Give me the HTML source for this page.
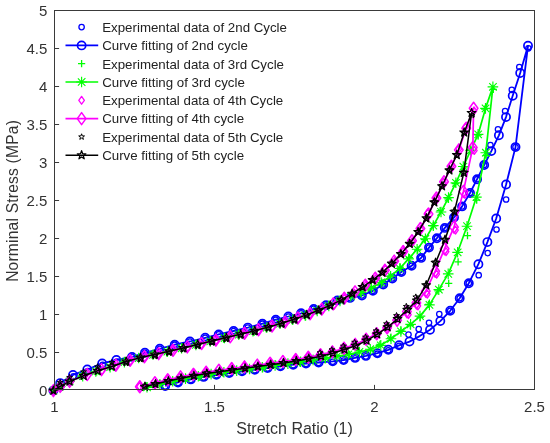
<!DOCTYPE html>
<html><head><meta charset="utf-8"><title>Stress-stretch curves</title>
<style>html,body{margin:0;padding:0;background:#fff}svg{display:block}</style></head>
<body>
<svg width="550" height="443" viewBox="0 0 550 443" font-family="'Liberation Sans', Arial, sans-serif">
<rect width="550" height="443" fill="#fff"/>
<g fill="none" stroke="#0000ff" stroke-width="1.3" stroke-linejoin="round"><circle cx="53.4" cy="390.6" r="2.7"/><circle cx="60.7" cy="384.6" r="2.7"/><circle cx="73.5" cy="376.4" r="2.7"/><circle cx="87.8" cy="371" r="2.7"/><circle cx="102.7" cy="364.9" r="2.7"/><circle cx="116.9" cy="361.5" r="2.7"/><circle cx="132" cy="356.9" r="2.7"/><circle cx="144.9" cy="352.8" r="2.7"/><circle cx="159.8" cy="348.8" r="2.7"/><circle cx="174.7" cy="344.7" r="2.7"/><circle cx="189.9" cy="341.5" r="2.7"/><circle cx="205.2" cy="337.8" r="2.7"/><circle cx="218.7" cy="334.4" r="2.7"/><circle cx="233.6" cy="331" r="2.7"/><circle cx="247.8" cy="327.6" r="2.7"/><circle cx="262.4" cy="323.7" r="2.7"/><circle cx="275.8" cy="319.7" r="2.7"/><circle cx="288.4" cy="316.5" r="2.7"/><circle cx="301.1" cy="313.3" r="2.7"/><circle cx="313.7" cy="308.9" r="2.7"/><circle cx="326" cy="305.3" r="2.7"/><circle cx="337.4" cy="300.4" r="2.7"/><circle cx="350" cy="297.9" r="2.7"/><circle cx="361.9" cy="295.5" r="2.7"/><circle cx="372.9" cy="290.8" r="2.7"/><circle cx="383.2" cy="284.5" r="2.7"/><circle cx="392.3" cy="278.5" r="2.7"/><circle cx="401.3" cy="272.1" r="2.7"/><circle cx="411.6" cy="265.8" r="2.7"/><circle cx="421.1" cy="257.9" r="2.7"/><circle cx="429" cy="247.6" r="2.7"/><circle cx="436.9" cy="238.2" r="2.7"/><circle cx="444.8" cy="227.9" r="2.7"/><circle cx="454" cy="217.4" r="2.7"/><circle cx="462.1" cy="206.4" r="2.7"/><circle cx="470" cy="193" r="2.7"/><circle cx="477.1" cy="179.2" r="2.7"/><circle cx="484.2" cy="165" r="2.7"/><circle cx="490.4" cy="145.1" r="2.7"/><circle cx="498" cy="129.3" r="2.7"/><circle cx="505.1" cy="111.1" r="2.7"/><circle cx="511.8" cy="89.8" r="2.7"/><circle cx="519.3" cy="67" r="2.7"/><circle cx="528.4" cy="48.3" r="2.7"/><circle cx="515.5" cy="147.1" r="2.7"/><circle cx="506.1" cy="199.5" r="2.7"/><circle cx="496.5" cy="229.5" r="2.7"/><circle cx="487.7" cy="253.1" r="2.7"/><circle cx="478.7" cy="275.2" r="2.7"/><circle cx="468.8" cy="283.2" r="2.7"/><circle cx="459.7" cy="298.2" r="2.7"/><circle cx="450.2" cy="310.8" r="2.7"/><circle cx="439.3" cy="314.1" r="2.7"/><circle cx="429" cy="322.8" r="2.7"/><circle cx="418.7" cy="329.1" r="2.7"/><circle cx="408.5" cy="334.6" r="2.7"/><circle cx="399.1" cy="345.8" r="2.7"/><circle cx="388.3" cy="350.3" r="2.7"/><circle cx="377.4" cy="353.7" r="2.7"/><circle cx="365.9" cy="356.4" r="2.7"/><circle cx="355.1" cy="358.4" r="2.7"/><circle cx="343.6" cy="360.5" r="2.7"/><circle cx="332.7" cy="361.8" r="2.7"/><circle cx="318.6" cy="363" r="2.7"/><circle cx="306" cy="364" r="2.7"/><circle cx="293.2" cy="365.2" r="2.7"/><circle cx="280.4" cy="366.8" r="2.7"/><circle cx="267.6" cy="368.5" r="2.7"/><circle cx="254.8" cy="370.2" r="2.7"/><circle cx="242" cy="371.8" r="2.7"/><circle cx="229.2" cy="373.5" r="2.7"/><circle cx="216.4" cy="375.3" r="2.7"/><circle cx="203.6" cy="377.4" r="2.7"/><circle cx="190.8" cy="379.9" r="2.7"/><circle cx="178" cy="383" r="2.7"/><circle cx="165.2" cy="386.5" r="2.7"/></g>
<g fill="none" stroke="#0000ff" stroke-width="1.8" stroke-linejoin="round"><path d="M53.4 390.6L60.2 383.1L73 374.9L87.3 369.5L102.2 363.4L116.4 360L132 356.9L144.9 352.8L159.8 348.8L174.7 344.7L189.9 341.5L205.2 337.8L218.7 334.4L233.6 331L247.8 327.6L262.4 323.7L275.8 319.7L288.4 316.5L301.1 313.3L313.7 308.9L326 305.3L337.4 300.4L350 297.9L361.9 295.5L372.9 290.8L383.2 284.5L392.3 278.5L401.3 272.1L411.6 265.8L421.1 257.9L429 247.6L436.9 238.2L444.8 227.9L454 217.4L462.1 206.4L470 193L477.1 179.2L484.2 165L491.3 151.1L498.9 135.3L506 117.1L512.7 95.8L520.2 73L528 45.8L515.5 147.1L506.1 184.5L496.2 218.5L487.4 242.1L478.4 264.2L468.8 283.2L459.7 298.2L450.2 310.8L440.3 321.1L430 329.8L419.7 336.1L409.5 341.6L399.1 345.3L388.3 349.8L377.4 353.2L365.9 355.9L355.1 357.9L343.6 360L332.7 361.3L318.6 362.5L306 363.5L293.2 364.7L280.4 366.3L267.6 368L254.8 369.7L242 371.3L229.2 373L216.4 374.8L203.6 376.9L190.8 379.4L178 382.5L165.2 386"/></g><g fill="none" stroke="#0000ff" stroke-width="1.7" stroke-linejoin="round"><circle cx="53.4" cy="390.6" r="4.1"/><circle cx="60.2" cy="383.1" r="4.1"/><circle cx="73" cy="374.9" r="4.1"/><circle cx="87.3" cy="369.5" r="4.1"/><circle cx="102.2" cy="363.4" r="4.1"/><circle cx="116.4" cy="360" r="4.1"/><circle cx="132" cy="356.9" r="4.1"/><circle cx="144.9" cy="352.8" r="4.1"/><circle cx="159.8" cy="348.8" r="4.1"/><circle cx="174.7" cy="344.7" r="4.1"/><circle cx="189.9" cy="341.5" r="4.1"/><circle cx="205.2" cy="337.8" r="4.1"/><circle cx="218.7" cy="334.4" r="4.1"/><circle cx="233.6" cy="331" r="4.1"/><circle cx="247.8" cy="327.6" r="4.1"/><circle cx="262.4" cy="323.7" r="4.1"/><circle cx="275.8" cy="319.7" r="4.1"/><circle cx="288.4" cy="316.5" r="4.1"/><circle cx="301.1" cy="313.3" r="4.1"/><circle cx="313.7" cy="308.9" r="4.1"/><circle cx="326" cy="305.3" r="4.1"/><circle cx="337.4" cy="300.4" r="4.1"/><circle cx="350" cy="297.9" r="4.1"/><circle cx="361.9" cy="295.5" r="4.1"/><circle cx="372.9" cy="290.8" r="4.1"/><circle cx="383.2" cy="284.5" r="4.1"/><circle cx="392.3" cy="278.5" r="4.1"/><circle cx="401.3" cy="272.1" r="4.1"/><circle cx="411.6" cy="265.8" r="4.1"/><circle cx="421.1" cy="257.9" r="4.1"/><circle cx="429" cy="247.6" r="4.1"/><circle cx="436.9" cy="238.2" r="4.1"/><circle cx="444.8" cy="227.9" r="4.1"/><circle cx="454" cy="217.4" r="4.1"/><circle cx="462.1" cy="206.4" r="4.1"/><circle cx="470" cy="193" r="4.1"/><circle cx="477.1" cy="179.2" r="4.1"/><circle cx="484.2" cy="165" r="4.1"/><circle cx="491.3" cy="151.1" r="4.1"/><circle cx="498.9" cy="135.3" r="4.1"/><circle cx="506" cy="117.1" r="4.1"/><circle cx="512.7" cy="95.8" r="4.1"/><circle cx="520.2" cy="73" r="4.1"/><circle cx="528" cy="45.8" r="4.1"/><circle cx="515.5" cy="147.1" r="4.1"/><circle cx="506.1" cy="184.5" r="4.1"/><circle cx="496.2" cy="218.5" r="4.1"/><circle cx="487.4" cy="242.1" r="4.1"/><circle cx="478.4" cy="264.2" r="4.1"/><circle cx="468.8" cy="283.2" r="4.1"/><circle cx="459.7" cy="298.2" r="4.1"/><circle cx="450.2" cy="310.8" r="4.1"/><circle cx="440.3" cy="321.1" r="4.1"/><circle cx="430" cy="329.8" r="4.1"/><circle cx="419.7" cy="336.1" r="4.1"/><circle cx="409.5" cy="341.6" r="4.1"/><circle cx="399.1" cy="345.3" r="4.1"/><circle cx="388.3" cy="349.8" r="4.1"/><circle cx="377.4" cy="353.2" r="4.1"/><circle cx="365.9" cy="355.9" r="4.1"/><circle cx="355.1" cy="357.9" r="4.1"/><circle cx="343.6" cy="360" r="4.1"/><circle cx="332.7" cy="361.3" r="4.1"/><circle cx="318.6" cy="362.5" r="4.1"/><circle cx="306" cy="363.5" r="4.1"/><circle cx="293.2" cy="364.7" r="4.1"/><circle cx="280.4" cy="366.3" r="4.1"/><circle cx="267.6" cy="368" r="4.1"/><circle cx="254.8" cy="369.7" r="4.1"/><circle cx="242" cy="371.3" r="4.1"/><circle cx="229.2" cy="373" r="4.1"/><circle cx="216.4" cy="374.8" r="4.1"/><circle cx="203.6" cy="376.9" r="4.1"/><circle cx="190.8" cy="379.4" r="4.1"/><circle cx="178" cy="382.5" r="4.1"/><circle cx="165.2" cy="386" r="4.1"/></g>
<g fill="none" stroke="#00ff00" stroke-width="1.3" stroke-linejoin="round"><path d="M49.8 390.6h7.2M53.4 387v7.2"/><path d="M57.2 387.7h7.2M60.8 384.1v7.2"/><path d="M66.5 382.7h7.2M70.1 379.1v7.2"/><path d="M78.2 376h7.2M81.8 372.4v7.2"/><path d="M93.1 371.9h7.2M96.7 368.3v7.2"/><path d="M107.3 365.9h7.2M110.9 362.3v7.2"/><path d="M120.8 361.3h7.2M124.4 357.7v7.2"/><path d="M135.2 358.3h7.2M138.8 354.7v7.2"/><path d="M148.5 354h7.2M152.1 350.4v7.2"/><path d="M163.3 352.9h7.2M166.9 349.3v7.2"/><path d="M178.6 347.3h7.2M182.2 343.7v7.2"/><path d="M192.9 343.8h7.2M196.5 340.2v7.2"/><path d="M206.9 340.3h7.2M210.5 336.7v7.2"/><path d="M219.9 339.1h7.2M223.5 335.5v7.2"/><path d="M234.7 333.7h7.2M238.3 330.1v7.2"/><path d="M250.4 332.3h7.2M254 328.7v7.2"/><path d="M262.7 328.9h7.2M266.3 325.3v7.2"/><path d="M276.5 324.2h7.2M280.1 320.6v7.2"/><path d="M288.7 321h7.2M292.3 317.4v7.2"/><path d="M302 316.8h7.2M305.6 313.2v7.2"/><path d="M314.4 310.3h7.2M318 306.7v7.2"/><path d="M324.9 304.9h7.2M328.5 301.3v7.2"/><path d="M335.7 299.6h7.2M339.3 296v7.2"/><path d="M346.8 296.6h7.2M350.4 293v7.2"/><path d="M356.7 292.8h7.2M360.3 289.2v7.2"/><path d="M367.5 287.3h7.2M371.1 283.7v7.2"/><path d="M378.2 282.4h7.2M381.8 278.8v7.2"/><path d="M386.6 276.1h7.2M390.2 272.5v7.2"/><path d="M396.6 267.1h7.2M400.2 263.5v7.2"/><path d="M405.9 257.5h7.2M409.5 253.9v7.2"/><path d="M414 250.2h7.2M417.6 246.6v7.2"/><path d="M420.8 239.6h7.2M424.4 236v7.2"/><path d="M429.5 225.9h7.2M433.1 222.3v7.2"/><path d="M436.5 210.6h7.2M440.1 207v7.2"/><path d="M444.3 198.9h7.2M447.9 195.3v7.2"/><path d="M451.7 183.6h7.2M455.3 180v7.2"/><path d="M460.6 167.8h7.2M464.2 164.2v7.2"/><path d="M466.8 149.8h7.2M470.4 146.2v7.2"/><path d="M474.5 135.2h7.2M478.1 131.6v7.2"/><path d="M481.1 109.1h7.2M484.7 105.5v7.2"/><path d="M489.7 89.4h7.2M493.3 85.8v7.2"/><path d="M482.5 155.7h7.2M486.1 152.1v7.2"/><path d="M473.1 200.1h7.2M476.7 196.5v7.2"/><path d="M463.9 235.7h7.2M467.5 232.1v7.2"/><path d="M454.5 261.8h7.2M458.1 258.2v7.2"/><path d="M445.1 283.4h7.2M448.7 279.8v7.2"/><path d="M434.3 290.9h7.2M437.9 287.3v7.2"/><path d="M425 304.4h7.2M428.6 300.8v7.2"/><path d="M416.6 317.4h7.2M420.2 313.8v7.2"/><path d="M406.7 325.6h7.2M410.3 322v7.2"/><path d="M397.4 330.9h7.2M401 327.3v7.2"/><path d="M387 337.8h7.2M390.6 334.2v7.2"/><path d="M376.3 344.3h7.2M379.9 340.7v7.2"/><path d="M367 350.7h7.2M370.6 347.1v7.2"/><path d="M355.2 350.6h7.2M358.8 347v7.2"/><path d="M345.7 354.4h7.2M349.3 350.8v7.2"/><path d="M333.1 355.5h7.2M336.7 351.9v7.2"/><path d="M321.7 359.1h7.2M325.3 355.5v7.2"/><path d="M309.4 359.7h7.2M313 356.1v7.2"/><path d="M296.1 363h7.2M299.7 359.4v7.2"/><path d="M283.3 363.5h7.2M286.9 359.9v7.2"/><path d="M272.1 364.3h7.2M275.7 360.7v7.2"/><path d="M259.1 368.6h7.2M262.7 365v7.2"/><path d="M246.1 369.8h7.2M249.7 366.2v7.2"/><path d="M232.3 370.4h7.2M235.9 366.8v7.2"/><path d="M219.5 373.3h7.2M223.1 369.7v7.2"/><path d="M207 374h7.2M210.6 370.4v7.2"/><path d="M195.6 377.3h7.2M199.2 373.7v7.2"/><path d="M182.8 378.4h7.2M186.4 374.8v7.2"/><path d="M169 381.9h7.2M172.6 378.3v7.2"/><path d="M156.2 383.5h7.2M159.8 379.9v7.2"/><path d="M143.2 386.2h7.2M146.8 382.6v7.2"/></g>
<g fill="none" stroke="#00ff00" stroke-width="1.7" stroke-linejoin="round"><path d="M53.4 390.6L60.2 386.4L69.6 381.4L82.7 376.1L95.8 371.4L110.1 367.1L124.4 362.1L138.7 358L153 354.8L167.3 351.6L181.6 348.3L195.9 344.9L210.2 341.5L224.5 338L238.8 334.6L253 331.2L266.8 327.5L280 323.7L292.8 319.6L305.2 315.4L317.2 310.9L328.8 305.9L340 300.9L350.8 296.3L361.3 292.3L371.4 287.9L381.2 282.5L390.6 276.2L399.8 268.5L408.6 258.9L417.1 249.2L425.4 238.7L433.3 225.6L441 212L448.5 197.6L455.9 182.8L463.3 166.5L470.7 150.3L478.1 134.4L485.5 108.4L492.9 86.9L485.8 152.7L476.4 197.1L467 226.2L457.6 252.3L448.2 273.9L438.8 289.6L429.4 304.9L420 316.1L410.6 324.4L400.9 331.4L391 338.7L380.8 345.4L370.3 349.2L359.5 352L348.3 354.3L336.9 356.3L325.2 358.1L313.1 359.9L300.6 361.7L287.9 363.6L275.1 365.4L262.3 367.2L249.5 369L236.7 370.6L223.9 372.3L211.1 374.1L198.3 376.2L185.5 378.6L172.7 381.3L159.9 384.2L147 387.3"/></g><g fill="none" stroke="#00ff00" stroke-width="1.15" stroke-linejoin="round"><path d="M48.1 390.6h10.6M53.4 385.3v10.6M49.7 386.9l7.5 7.5M49.7 394.3l7.5 -7.5"/><path d="M54.9 386.4h10.6M60.2 381.1v10.6M56.5 382.6l7.5 7.5M56.5 390.1l7.5 -7.5"/><path d="M64.3 381.4h10.6M69.6 376.1v10.6M65.9 377.7l7.5 7.5M65.9 385.2l7.5 -7.5"/><path d="M77.4 376.1h10.6M82.7 370.8v10.6M79 372.4l7.5 7.5M79 379.9l7.5 -7.5"/><path d="M90.5 371.4h10.6M95.8 366.1v10.6M92.1 367.7l7.5 7.5M92.1 375.2l7.5 -7.5"/><path d="M104.8 367.1h10.6M110.1 361.8v10.6M106.4 363.3l7.5 7.5M106.4 370.8l7.5 -7.5"/><path d="M119.1 362.1h10.6M124.4 356.8v10.6M120.7 358.3l7.5 7.5M120.7 365.8l7.5 -7.5"/><path d="M133.4 358h10.6M138.7 352.7v10.6M135 354.3l7.5 7.5M135 361.8l7.5 -7.5"/><path d="M147.7 354.8h10.6M153 349.5v10.6M149.3 351.1l7.5 7.5M149.3 358.6l7.5 -7.5"/><path d="M162 351.6h10.6M167.3 346.3v10.6M163.6 347.9l7.5 7.5M163.6 355.4l7.5 -7.5"/><path d="M176.3 348.3h10.6M181.6 343v10.6M177.9 344.5l7.5 7.5M177.9 352l7.5 -7.5"/><path d="M190.6 344.9h10.6M195.9 339.6v10.6M192.2 341.1l7.5 7.5M192.2 348.6l7.5 -7.5"/><path d="M204.9 341.5h10.6M210.2 336.2v10.6M206.5 337.7l7.5 7.5M206.5 345.2l7.5 -7.5"/><path d="M219.2 338h10.6M224.5 332.7v10.6M220.8 334.3l7.5 7.5M220.8 341.8l7.5 -7.5"/><path d="M233.5 334.6h10.6M238.8 329.3v10.6M235.1 330.8l7.5 7.5M235.1 338.3l7.5 -7.5"/><path d="M247.7 331.2h10.6M253 325.9v10.6M249.3 327.4l7.5 7.5M249.3 334.9l7.5 -7.5"/><path d="M261.5 327.5h10.6M266.8 322.2v10.6M263 323.8l7.5 7.5M263 331.3l7.5 -7.5"/><path d="M274.7 323.7h10.6M280 318.4v10.6M276.3 319.9l7.5 7.5M276.3 327.4l7.5 -7.5"/><path d="M287.5 319.6h10.6M292.8 314.3v10.6M289.1 315.9l7.5 7.5M289.1 323.4l7.5 -7.5"/><path d="M299.9 315.4h10.6M305.2 310.1v10.6M301.5 311.7l7.5 7.5M301.5 319.2l7.5 -7.5"/><path d="M311.9 310.9h10.6M317.2 305.6v10.6M313.5 307.2l7.5 7.5M313.5 314.7l7.5 -7.5"/><path d="M323.5 305.9h10.6M328.8 300.6v10.6M325.1 302.1l7.5 7.5M325.1 309.6l7.5 -7.5"/><path d="M334.7 300.9h10.6M340 295.6v10.6M336.3 297.1l7.5 7.5M336.3 304.6l7.5 -7.5"/><path d="M345.5 296.3h10.6M350.8 291v10.6M347.1 292.6l7.5 7.5M347.1 300.1l7.5 -7.5"/><path d="M356 292.3h10.6M361.3 287v10.6M357.5 288.6l7.5 7.5M357.5 296.1l7.5 -7.5"/><path d="M366.1 287.9h10.6M371.4 282.6v10.6M367.6 284.2l7.5 7.5M367.6 291.7l7.5 -7.5"/><path d="M375.9 282.5h10.6M381.2 277.2v10.6M377.4 278.7l7.5 7.5M377.4 286.2l7.5 -7.5"/><path d="M385.3 276.2h10.6M390.6 270.9v10.6M386.9 272.4l7.5 7.5M386.9 279.9l7.5 -7.5"/><path d="M394.5 268.5h10.6M399.8 263.2v10.6M396 264.7l7.5 7.5M396 272.2l7.5 -7.5"/><path d="M403.3 258.9h10.6M408.6 253.6v10.6M404.8 255.2l7.5 7.5M404.8 262.7l7.5 -7.5"/><path d="M411.8 249.2h10.6M417.1 243.9v10.6M413.4 245.4l7.5 7.5M413.4 252.9l7.5 -7.5"/><path d="M420.1 238.7h10.6M425.4 233.4v10.6M421.6 235l7.5 7.5M421.6 242.5l7.5 -7.5"/><path d="M428 225.6h10.6M433.3 220.3v10.6M429.6 221.9l7.5 7.5M429.6 229.4l7.5 -7.5"/><path d="M435.7 212h10.6M441 206.7v10.6M437.3 208.2l7.5 7.5M437.3 215.7l7.5 -7.5"/><path d="M443.2 197.6h10.6M448.5 192.3v10.6M444.8 193.8l7.5 7.5M444.8 201.3l7.5 -7.5"/><path d="M450.6 182.8h10.6M455.9 177.5v10.6M452.2 179.1l7.5 7.5M452.2 186.6l7.5 -7.5"/><path d="M458 166.5h10.6M463.3 161.2v10.6M459.6 162.8l7.5 7.5M459.6 170.3l7.5 -7.5"/><path d="M465.4 150.3h10.6M470.7 145v10.6M467 146.5l7.5 7.5M467 154l7.5 -7.5"/><path d="M472.8 134.4h10.6M478.1 129.1v10.6M474.4 130.6l7.5 7.5M474.4 138.1l7.5 -7.5"/><path d="M480.2 108.4h10.6M485.5 103.1v10.6M481.8 104.6l7.5 7.5M481.8 112.1l7.5 -7.5"/><path d="M487.6 86.9h10.6M492.9 81.6v10.6M489.2 83.2l7.5 7.5M489.2 90.6l7.5 -7.5"/><path d="M480.5 152.7h10.6M485.8 147.4v10.6M482.1 149l7.5 7.5M482.1 156.4l7.5 -7.5"/><path d="M471.1 197.1h10.6M476.4 191.8v10.6M472.7 193.3l7.5 7.5M472.7 200.8l7.5 -7.5"/><path d="M461.7 226.2h10.6M467 220.9v10.6M463.3 222.4l7.5 7.5M463.3 229.9l7.5 -7.5"/><path d="M452.3 252.3h10.6M457.6 247v10.6M453.9 248.6l7.5 7.5M453.9 256.1l7.5 -7.5"/><path d="M442.9 273.9h10.6M448.2 268.6v10.6M444.5 270.1l7.5 7.5M444.5 277.6l7.5 -7.5"/><path d="M433.5 289.6h10.6M438.8 284.3v10.6M435.1 285.8l7.5 7.5M435.1 293.3l7.5 -7.5"/><path d="M424.1 304.9h10.6M429.4 299.6v10.6M425.7 301.1l7.5 7.5M425.7 308.6l7.5 -7.5"/><path d="M414.7 316.1h10.6M420 310.8v10.6M416.3 312.4l7.5 7.5M416.3 319.9l7.5 -7.5"/><path d="M405.3 324.4h10.6M410.6 319.1v10.6M406.9 320.6l7.5 7.5M406.9 328.1l7.5 -7.5"/><path d="M395.6 331.4h10.6M400.9 326.1v10.6M397.2 327.7l7.5 7.5M397.2 335.2l7.5 -7.5"/><path d="M385.7 338.7h10.6M391 333.4v10.6M387.2 335l7.5 7.5M387.2 342.5l7.5 -7.5"/><path d="M375.5 345.4h10.6M380.8 340.1v10.6M377 341.6l7.5 7.5M377 349.1l7.5 -7.5"/><path d="M365 349.2h10.6M370.3 343.9v10.6M366.5 345.5l7.5 7.5M366.5 353l7.5 -7.5"/><path d="M354.2 352h10.6M359.5 346.7v10.6M355.7 348.2l7.5 7.5M355.7 355.7l7.5 -7.5"/><path d="M343 354.3h10.6M348.3 349v10.6M344.6 350.6l7.5 7.5M344.6 358.1l7.5 -7.5"/><path d="M331.6 356.3h10.6M336.9 351v10.6M333.2 352.6l7.5 7.5M333.2 360.1l7.5 -7.5"/><path d="M319.9 358.1h10.6M325.2 352.8v10.6M321.4 354.4l7.5 7.5M321.4 361.9l7.5 -7.5"/><path d="M307.8 359.9h10.6M313.1 354.6v10.6M309.3 356.2l7.5 7.5M309.3 363.7l7.5 -7.5"/><path d="M295.3 361.7h10.6M300.6 356.4v10.6M296.9 358l7.5 7.5M296.9 365.5l7.5 -7.5"/><path d="M282.6 363.6h10.6M287.9 358.3v10.6M284.1 359.8l7.5 7.5M284.1 367.3l7.5 -7.5"/><path d="M269.8 365.4h10.6M275.1 360.1v10.6M271.3 361.7l7.5 7.5M271.3 369.2l7.5 -7.5"/><path d="M257 367.2h10.6M262.3 361.9v10.6M258.5 363.5l7.5 7.5M258.5 371l7.5 -7.5"/><path d="M244.2 369h10.6M249.5 363.7v10.6M245.7 365.2l7.5 7.5M245.7 372.7l7.5 -7.5"/><path d="M231.4 370.6h10.6M236.7 365.3v10.6M232.9 366.9l7.5 7.5M232.9 374.4l7.5 -7.5"/><path d="M218.6 372.3h10.6M223.9 367v10.6M220.1 368.6l7.5 7.5M220.1 376.1l7.5 -7.5"/><path d="M205.8 374.1h10.6M211.1 368.8v10.6M207.3 370.4l7.5 7.5M207.3 377.9l7.5 -7.5"/><path d="M193 376.2h10.6M198.3 370.9v10.6M194.5 372.5l7.5 7.5M194.5 379.9l7.5 -7.5"/><path d="M180.2 378.6h10.6M185.5 373.3v10.6M181.7 374.8l7.5 7.5M181.7 382.3l7.5 -7.5"/><path d="M167.4 381.3h10.6M172.7 376v10.6M168.9 377.5l7.5 7.5M168.9 385l7.5 -7.5"/><path d="M154.6 384.2h10.6M159.9 378.9v10.6M156.1 380.4l7.5 7.5M156.1 387.9l7.5 -7.5"/><path d="M141.7 387.3h10.6M147 382v10.6M143.3 383.6l7.5 7.5M143.3 391l7.5 -7.5"/></g>
<g fill="none" stroke="#ff00ff" stroke-width="1.3" stroke-linejoin="round"><path d="M53.4 386.7L56.2 390.6L53.4 394.5L50.6 390.6Z"/><path d="M61.1 382.9L63.9 386.8L61.1 390.7L58.3 386.8Z"/><path d="M69.6 377L72.4 380.9L69.6 384.8L66.8 380.9Z"/><path d="M86.3 369.9L89.2 373.8L86.3 377.7L83.5 373.8Z"/><path d="M102 366.8L104.8 370.7L102 374.6L99.2 370.7Z"/><path d="M115.5 362.1L118.3 366L115.5 369.9L112.7 366Z"/><path d="M130.6 357L133.4 360.9L130.6 364.8L127.8 360.9Z"/><path d="M144.7 353.6L147.5 357.5L144.7 361.4L141.9 357.5Z"/><path d="M158.4 350.3L161.2 354.2L158.4 358.1L155.6 354.2Z"/><path d="M172.5 346.4L175.3 350.3L172.5 354.2L169.7 350.3Z"/><path d="M187.8 343.6L190.6 347.5L187.8 351.4L185 347.5Z"/><path d="M201.2 341L204 344.9L201.2 348.8L198.3 344.9Z"/><path d="M216.2 336.5L219 340.4L216.2 344.3L213.4 340.4Z"/><path d="M229.2 332.9L232 336.8L229.2 340.7L226.4 336.8Z"/><path d="M244 329.9L246.8 333.8L244 337.7L241.2 333.8Z"/><path d="M258.4 326.8L261.2 330.7L258.4 334.6L255.6 330.7Z"/><path d="M272.3 323L275.1 326.9L272.3 330.8L269.5 326.9Z"/><path d="M284.8 318.6L287.6 322.5L284.8 326.4L282 322.5Z"/><path d="M298.2 315.1L301 319L298.2 322.9L295.4 319Z"/><path d="M309.7 310.8L312.5 314.7L309.7 318.6L306.9 314.7Z"/><path d="M322.6 305.7L325.4 309.6L322.6 313.5L319.7 309.6Z"/><path d="M334.2 301.4L337 305.3L334.2 309.2L331.4 305.3Z"/><path d="M344.3 294.4L347.1 298.3L344.3 302.2L341.5 298.3Z"/><path d="M354.3 289.1L357.1 293L354.3 296.9L351.5 293Z"/><path d="M366.2 281.2L369 285.1L366.2 289L363.4 285.1Z"/><path d="M375.6 274.9L378.5 278.8L375.6 282.7L372.8 278.8Z"/><path d="M385.4 265.3L388.2 269.2L385.4 273.1L382.6 269.2Z"/><path d="M394.8 257.5L397.6 261.4L394.8 265.3L392 261.4Z"/><path d="M403.6 247.3L406.4 251.2L403.6 255.1L400.8 251.2Z"/><path d="M412.2 237.7L415 241.6L412.2 245.5L409.4 241.6Z"/><path d="M420.7 225.3L423.5 229.2L420.7 233.1L417.8 229.2Z"/><path d="M427.6 209.1L430.4 213L427.6 216.9L424.8 213Z"/><path d="M436.3 194.5L439.1 198.4L436.3 202.3L433.5 198.4Z"/><path d="M443.4 178.5L446.2 182.4L443.4 186.3L440.6 182.4Z"/><path d="M451.7 161.1L454.5 165L451.7 168.9L448.9 165Z"/><path d="M458.7 145.1L461.6 149L458.7 152.9L455.9 149Z"/><path d="M465.3 123.3L468.1 127.2L465.3 131.1L462.5 127.2Z"/><path d="M474 106.9L476.8 110.8L474 114.7L471.2 110.8Z"/><path d="M474.3 146.6L477.1 150.5L474.3 154.4L471.5 150.5Z"/><path d="M464.9 190.5L467.7 194.4L464.9 198.3L462.1 194.4Z"/><path d="M455.5 226.2L458.3 230.1L455.5 234L452.7 230.1Z"/><path d="M446.1 247.8L448.9 251.7L446.1 255.6L443.3 251.7Z"/><path d="M436.7 270.3L439.5 274.2L436.7 278.1L433.9 274.2Z"/><path d="M427.3 290.2L430.1 294.1L427.3 298L424.5 294.1Z"/><path d="M417.9 302L420.7 305.9L417.9 309.8L415.1 305.9Z"/><path d="M408.4 310.7L411.2 314.6L408.4 318.5L405.6 314.6Z"/><path d="M396.5 315L399.3 318.9L396.5 322.8L393.7 318.9Z"/><path d="M387 323.6L389.8 327.5L387 331.4L384.2 327.5Z"/><path d="M377 330.1L379.8 334L377 337.9L374.2 334Z"/><path d="M365.6 336.5L368.4 340.4L365.6 344.3L362.8 340.4Z"/><path d="M354.2 340.2L357 344.1L354.2 348L351.4 344.1Z"/><path d="M343.5 344L346.3 347.9L343.5 351.8L340.7 347.9Z"/><path d="M331.6 348.9L334.4 352.8L331.6 356.7L328.8 352.8Z"/><path d="M320.3 349.5L323.1 353.4L320.3 357.3L317.5 353.4Z"/><path d="M308.5 352.2L311.3 356.1L308.5 360L305.7 356.1Z"/><path d="M295.8 355.1L298.6 359L295.8 362.9L293 359Z"/><path d="M283.1 359L285.9 362.9L283.1 366.8L280.3 362.9Z"/><path d="M270.8 359.2L273.6 363.1L270.8 367L268 363.1Z"/><path d="M258 361.7L260.8 365.6L258 369.5L255.2 365.6Z"/><path d="M244.3 361.9L247.1 365.8L244.3 369.7L241.5 365.8Z"/><path d="M231.9 364.8L234.7 368.7L231.9 372.6L229.1 368.7Z"/><path d="M219.9 367.8L222.7 371.7L219.9 375.6L217 371.7Z"/><path d="M206.4 367.8L209.2 371.7L206.4 375.6L203.5 371.7Z"/><path d="M194.1 369L196.9 372.9L194.1 376.8L191.3 372.9Z"/><path d="M179.8 373.2L182.6 377.1L179.8 381L176.9 377.1Z"/><path d="M168 374.8L170.8 378.7L168 382.6L165.2 378.7Z"/><path d="M155.2 380.1L158 384L155.2 387.9L152.4 384Z"/><path d="M139.6 382.6L142.4 386.5L139.6 390.4L136.7 386.5Z"/></g>
<g fill="none" stroke="#ff00ff" stroke-width="1.7" stroke-linejoin="round"><path d="M53.4 390.6L60.2 386.4L69.6 381.4L87.2 374.5L101.5 369.6L115.8 365.2L130.1 360.3L144.4 356.7L158.7 353.6L173 350.3L187.3 346.9L201.6 343.5L215.9 340.1L230.2 336.7L244.5 333.2L258.5 329.8L272 326L285.1 322.1L297.8 318L310 313.7L321.8 309.1L333.2 303.9L344.3 298.2L355 291.9L365.3 285.2L375.3 278.2L384.9 270.2L394.2 261.1L403.2 251.5L412 240.8L420.4 228.5L428.5 214L436.4 198L444 181.8L451.4 166.3L458.8 149.9L466.2 128.3L473.6 108.3L472.8 147.5L463.4 191.4L454 227.1L444.6 248.7L435.2 271.2L425.8 291.1L416.4 302.9L406.9 311.6L397.1 320.3L387.1 327.8L376.7 333.7L366.1 339.2L355.2 344.4L344 348.2L332.4 351.9L320.5 354.8L308.3 357.3L295.7 359.5L282.9 361.5L270.1 363.3L257.3 365.1L244.5 366.9L231.7 368.5L218.9 370.3L206.1 372.2L193.3 374.4L180.5 376.9L167.7 379.8L154.9 382.8L139.8 386.7"/></g><g fill="none" stroke="#ff00ff" stroke-width="1.5" stroke-linejoin="round"><path d="M53.4 384.6L57.7 390.6L53.4 396.6L49.1 390.6Z"/><path d="M60.2 380.4L64.5 386.4L60.2 392.4L55.9 386.4Z"/><path d="M69.6 375.4L73.9 381.4L69.6 387.4L65.3 381.4Z"/><path d="M87.2 368.5L91.5 374.5L87.2 380.5L82.8 374.5Z"/><path d="M101.5 363.6L105.8 369.6L101.5 375.6L97.1 369.6Z"/><path d="M115.8 359.2L120.1 365.2L115.8 371.2L111.4 365.2Z"/><path d="M130.1 354.3L134.4 360.3L130.1 366.3L125.7 360.3Z"/><path d="M144.4 350.7L148.7 356.7L144.4 362.7L140 356.7Z"/><path d="M158.7 347.6L163 353.6L158.7 359.6L154.3 353.6Z"/><path d="M173 344.3L177.3 350.3L173 356.3L168.6 350.3Z"/><path d="M187.3 340.9L191.6 346.9L187.3 352.9L182.9 346.9Z"/><path d="M201.6 337.5L205.9 343.5L201.6 349.5L197.2 343.5Z"/><path d="M215.9 334.1L220.2 340.1L215.9 346.1L211.5 340.1Z"/><path d="M230.2 330.7L234.5 336.7L230.2 342.7L225.8 336.7Z"/><path d="M244.5 327.2L248.8 333.2L244.5 339.2L240.1 333.2Z"/><path d="M258.5 323.8L262.8 329.8L258.5 335.8L254.2 329.8Z"/><path d="M272 320L276.3 326L272 332L267.7 326Z"/><path d="M285.1 316.1L289.4 322.1L285.1 328.1L280.8 322.1Z"/><path d="M297.8 312L302.1 318L297.8 324L293.4 318Z"/><path d="M310 307.7L314.3 313.7L310 319.7L305.7 313.7Z"/><path d="M321.8 303.1L326.1 309.1L321.8 315.1L317.5 309.1Z"/><path d="M333.2 297.9L337.6 303.9L333.2 309.9L328.9 303.9Z"/><path d="M344.3 292.2L348.6 298.2L344.3 304.2L340 298.2Z"/><path d="M355 285.9L359.3 291.9L355 297.9L350.6 291.9Z"/><path d="M365.3 279.2L369.6 285.2L365.3 291.2L361 285.2Z"/><path d="M375.3 272.2L379.6 278.2L375.3 284.2L370.9 278.2Z"/><path d="M384.9 264.2L389.2 270.2L384.9 276.2L380.6 270.2Z"/><path d="M394.2 255.1L398.6 261.1L394.2 267.1L389.9 261.1Z"/><path d="M403.2 245.5L407.6 251.5L403.2 257.5L398.9 251.5Z"/><path d="M412 234.8L416.3 240.8L412 246.8L407.6 240.8Z"/><path d="M420.4 222.5L424.7 228.5L420.4 234.5L416.1 228.5Z"/><path d="M428.5 208L432.8 214L428.5 220L424.2 214Z"/><path d="M436.4 192L440.7 198L436.4 204L432.1 198Z"/><path d="M444 175.8L448.3 181.8L444 187.8L439.7 181.8Z"/><path d="M451.4 160.3L455.7 166.3L451.4 172.3L447.1 166.3Z"/><path d="M458.8 143.9L463.1 149.9L458.8 155.9L454.5 149.9Z"/><path d="M466.2 122.3L470.5 128.3L466.2 134.3L461.9 128.3Z"/><path d="M473.6 102.3L477.9 108.3L473.6 114.3L469.3 108.3Z"/><path d="M472.8 141.5L477.1 147.5L472.8 153.5L468.5 147.5Z"/><path d="M463.4 185.4L467.7 191.4L463.4 197.4L459.1 191.4Z"/><path d="M454 221.1L458.3 227.1L454 233.1L449.7 227.1Z"/><path d="M444.6 242.7L448.9 248.7L444.6 254.7L440.3 248.7Z"/><path d="M435.2 265.2L439.5 271.2L435.2 277.2L430.9 271.2Z"/><path d="M425.8 285.1L430.1 291.1L425.8 297.1L421.5 291.1Z"/><path d="M416.4 296.9L420.7 302.9L416.4 308.9L412.1 302.9Z"/><path d="M406.9 305.6L411.2 311.6L406.9 317.6L402.6 311.6Z"/><path d="M397.1 314.3L401.4 320.3L397.1 326.3L392.8 320.3Z"/><path d="M387.1 321.8L391.4 327.8L387.1 333.8L382.8 327.8Z"/><path d="M376.7 327.7L381.1 333.7L376.7 339.7L372.4 333.7Z"/><path d="M366.1 333.2L370.4 339.2L366.1 345.2L361.8 339.2Z"/><path d="M355.2 338.4L359.5 344.4L355.2 350.4L350.9 344.4Z"/><path d="M344 342.2L348.3 348.2L344 354.2L339.6 348.2Z"/><path d="M332.4 345.9L336.7 351.9L332.4 357.9L328.1 351.9Z"/><path d="M320.5 348.8L324.8 354.8L320.5 360.8L316.2 354.8Z"/><path d="M308.3 351.3L312.6 357.3L308.3 363.3L304 357.3Z"/><path d="M295.7 353.5L300.1 359.5L295.7 365.5L291.4 359.5Z"/><path d="M282.9 355.5L287.3 361.5L282.9 367.5L278.6 361.5Z"/><path d="M270.1 357.3L274.5 363.3L270.1 369.3L265.8 363.3Z"/><path d="M257.3 359.1L261.7 365.1L257.3 371.1L253 365.1Z"/><path d="M244.5 360.9L248.9 366.9L244.5 372.9L240.2 366.9Z"/><path d="M231.7 362.5L236.1 368.5L231.7 374.5L227.4 368.5Z"/><path d="M218.9 364.3L223.3 370.3L218.9 376.3L214.6 370.3Z"/><path d="M206.1 366.2L210.5 372.2L206.1 378.2L201.8 372.2Z"/><path d="M193.3 368.4L197.7 374.4L193.3 380.4L189 374.4Z"/><path d="M180.5 370.9L184.9 376.9L180.5 382.9L176.2 376.9Z"/><path d="M167.7 373.8L172.1 379.8L167.7 385.8L163.4 379.8Z"/><path d="M154.9 376.8L159.3 382.8L154.9 388.8L150.6 382.8Z"/><path d="M139.8 380.7L144.1 386.7L139.8 392.7L135.5 386.7Z"/></g>
<g fill="none" stroke="#000000" stroke-width="1.0" stroke-linejoin="round"><path d="M53.4 387.5L54.1 389.6L56.3 389.6L54.6 391L55.2 393.1L53.4 391.8L51.6 393.1L52.2 391L50.5 389.6L52.7 389.6Z"/><path d="M60.2 379.3L60.9 381.4L63.1 381.4L61.4 382.8L62 384.9L60.2 383.6L58.4 384.9L59 382.8L57.3 381.4L59.5 381.4Z"/><path d="M69.6 374.3L70.3 376.4L72.5 376.5L70.8 377.8L71.4 379.9L69.6 378.7L67.8 379.9L68.4 377.8L66.7 376.5L68.9 376.4Z"/><path d="M83.6 368.7L84.3 370.8L86.6 370.9L84.8 372.2L85.4 374.3L83.6 373L81.8 374.3L82.4 372.2L80.7 370.9L82.9 370.8Z"/><path d="M97.6 363.7L98.3 365.8L100.6 365.9L98.8 367.2L99.4 369.3L97.6 368.1L95.8 369.3L96.4 367.2L94.7 365.9L96.9 365.8Z"/><path d="M111.9 359.4L112.6 361.5L114.9 361.5L113.1 362.9L113.7 365L111.9 363.7L110.1 365L110.7 362.9L109 361.5L111.2 361.5Z"/><path d="M126.2 360.2L126.9 362.3L129.2 362.3L127.4 363.6L128 365.8L126.2 364.5L124.4 365.8L125 363.6L123.3 362.3L125.5 362.3Z"/><path d="M140.5 356.3L141.2 358.4L143.5 358.5L141.7 359.8L142.3 361.9L140.5 360.7L138.7 361.9L139.3 359.8L137.6 358.5L139.8 358.4Z"/><path d="M154.8 353.2L155.5 355.3L157.8 355.3L156 356.6L156.6 358.8L154.8 357.5L153 358.8L153.6 356.6L151.9 355.3L154.1 355.3Z"/><path d="M169.1 349.9L169.8 352L172.1 352.1L170.3 353.4L170.9 355.5L169.1 354.3L167.3 355.5L167.9 353.4L166.2 352.1L168.4 352Z"/><path d="M183.4 346.6L184.1 348.6L186.4 348.7L184.6 350L185.2 352.2L183.4 350.9L181.6 352.2L182.2 350L180.5 348.7L182.7 348.6Z"/><path d="M197.7 343.1L198.4 345.2L200.7 345.3L198.9 346.6L199.5 348.8L197.7 347.5L195.9 348.8L196.5 346.6L194.8 345.3L197 345.2Z"/><path d="M212 339.7L212.7 341.8L215 341.9L213.2 343.2L213.8 345.3L212 344.1L210.2 345.3L210.8 343.2L209.1 341.9L211.3 341.8Z"/><path d="M226.3 336.3L227 338.4L229.3 338.4L227.5 339.8L228.1 341.9L226.3 340.6L224.5 341.9L225.1 339.8L223.4 338.4L225.6 338.4Z"/><path d="M240.6 332.9L241.3 335L243.6 335L241.8 336.3L242.4 338.5L240.6 337.2L238.8 338.5L239.4 336.3L237.7 335L239.9 335Z"/><path d="M254.8 329.4L255.5 331.5L257.7 331.6L255.9 332.9L256.6 335L254.8 333.8L252.9 335L253.6 332.9L251.8 331.6L254 331.5Z"/><path d="M268.4 325.8L269.1 327.9L271.4 327.9L269.6 329.2L270.2 331.4L268.4 330.1L266.6 331.4L267.2 329.2L265.5 327.9L267.7 327.9Z"/><path d="M281.6 321.9L282.4 324L284.6 324L282.8 325.4L283.5 327.5L281.6 326.2L279.8 327.5L280.4 325.4L278.7 324L280.9 324Z"/><path d="M294.4 317.8L295.1 319.9L297.3 320L295.6 321.3L296.2 323.4L294.4 322.2L292.6 323.4L293.2 321.3L291.4 320L293.7 319.9Z"/><path d="M306.5 311.4L307.2 313.5L309.4 313.5L307.6 314.8L308.3 317L306.5 315.7L304.6 317L305.3 314.8L303.5 313.5L305.7 313.5Z"/><path d="M319.1 307L319.9 309.1L322.1 309.1L320.3 310.5L321 312.6L319.1 311.3L317.3 312.6L318 310.5L316.2 309.1L318.4 309.1Z"/><path d="M330.7 303.1L331.4 305.2L333.6 305.2L331.8 306.6L332.5 308.7L330.7 307.4L328.8 308.7L329.5 306.6L327.7 305.2L329.9 305.2Z"/><path d="M341.4 296.3L342.2 298.3L344.4 298.4L342.6 299.7L343.3 301.9L341.4 300.6L339.6 301.9L340.3 299.7L338.5 298.4L340.7 298.3Z"/><path d="M352.6 290.6L353.3 292.7L355.6 292.7L353.8 294.1L354.4 296.2L352.6 294.9L350.8 296.2L351.4 294.1L349.7 292.7L351.9 292.7Z"/><path d="M362.5 283.5L363.2 285.6L365.4 285.7L363.6 287L364.3 289.2L362.5 287.9L360.6 289.2L361.3 287L359.5 285.7L361.7 285.6Z"/><path d="M373.1 277L373.8 279.1L376 279.1L374.3 280.4L374.9 282.6L373.1 281.3L371.3 282.6L371.9 280.4L370.2 279.1L372.4 279.1Z"/><path d="M382.1 269.4L382.9 271.5L385.1 271.5L383.3 272.9L384 275L382.1 273.7L380.3 275L381 272.9L379.2 271.5L381.4 271.5Z"/><path d="M391.4 260.8L392.1 262.9L394.3 262.9L392.6 264.3L393.2 266.4L391.4 265.1L389.6 266.4L390.2 264.3L388.4 262.9L390.7 262.9Z"/><path d="M400.8 250.6L401.5 252.7L403.7 252.7L402 254.1L402.6 256.2L400.8 254.9L399 256.2L399.6 254.1L397.8 252.7L400.1 252.7Z"/><path d="M409.9 241.4L410.7 243.5L412.9 243.5L411.1 244.9L411.8 247L409.9 245.7L408.1 247L408.7 244.9L407 243.5L409.2 243.5Z"/><path d="M417.7 229L418.4 231.1L420.6 231.1L418.8 232.4L419.5 234.6L417.7 233.3L415.8 234.6L416.5 232.4L414.7 231.1L416.9 231.1Z"/><path d="M426.1 216L426.9 218.1L429.1 218.1L427.3 219.5L428 221.6L426.1 220.3L424.3 221.6L425 219.5L423.2 218.1L425.4 218.1Z"/><path d="M434.6 198.7L435.3 200.8L437.5 200.8L435.8 202.1L436.4 204.3L434.6 203L432.8 204.3L433.4 202.1L431.6 200.8L433.9 200.8Z"/><path d="M441.7 182.4L442.5 184.5L444.7 184.5L442.9 185.9L443.6 188L441.7 186.7L439.9 188L440.6 185.9L438.8 184.5L441 184.5Z"/><path d="M449.9 166.8L450.6 168.9L452.8 169L451.1 170.3L451.7 172.4L449.9 171.2L448.1 172.4L448.7 170.3L446.9 169L449.2 168.9Z"/><path d="M456.9 151.9L457.6 154L459.9 154L458.1 155.4L458.7 157.5L456.9 156.2L455.1 157.5L455.7 155.4L454 154L456.2 154Z"/><path d="M464.3 129.5L465.1 131.6L467.3 131.7L465.5 133L466.2 135.1L464.3 133.9L462.5 135.1L463.2 133L461.4 131.7L463.6 131.6Z"/><path d="M472 112.3L472.7 114.4L474.9 114.4L473.2 115.8L473.8 117.9L472 116.6L470.2 117.9L470.8 115.8L469.1 114.4L471.3 114.4Z"/><path d="M464.1 168.9L464.8 171L467 171.1L465.2 172.4L465.9 174.5L464.1 173.3L462.2 174.5L462.9 172.4L461.1 171.1L463.3 171Z"/><path d="M454.4 207.9L455.2 210L457.4 210.1L455.6 211.4L456.3 213.5L454.4 212.3L452.6 213.5L453.3 211.4L451.5 210.1L453.7 210Z"/><path d="M444.8 236.3L445.5 238.4L447.7 238.4L446 239.8L446.6 241.9L444.8 240.6L443 241.9L443.6 239.8L441.8 238.4L444.1 238.4Z"/><path d="M435.6 259L436.3 261.1L438.5 261.1L436.7 262.5L437.4 264.6L435.6 263.3L433.7 264.6L434.4 262.5L432.6 261.1L434.8 261.1Z"/><path d="M426.4 281.9L427.2 284L429.4 284L427.6 285.4L428.3 287.5L426.4 286.2L424.6 287.5L425.3 285.4L423.5 284L425.7 284Z"/><path d="M415.8 293.9L416.5 296L418.7 296L417 297.4L417.6 299.5L415.8 298.2L414 299.5L414.6 297.4L412.9 296L415.1 296Z"/><path d="M406.3 303.3L407 305.4L409.3 305.5L407.5 306.8L408.1 308.9L406.3 307.7L404.5 308.9L405.1 306.8L403.4 305.5L405.6 305.4Z"/><path d="M396.5 312.5L397.3 314.6L399.5 314.7L397.7 316L398.4 318.1L396.5 316.9L394.7 318.1L395.4 316L393.6 314.7L395.8 314.6Z"/><path d="M386.5 320.7L387.2 322.8L389.5 322.8L387.7 324.2L388.3 326.3L386.5 325L384.7 326.3L385.3 324.2L383.6 322.8L385.8 322.8Z"/><path d="M376.2 327.8L376.9 329.9L379.1 329.9L377.4 331.3L378 333.4L376.2 332.1L374.4 333.4L375 331.3L373.2 329.9L375.5 329.9Z"/><path d="M365.6 334.1L366.3 336.2L368.5 336.2L366.8 337.6L367.4 339.7L365.6 338.4L363.8 339.7L364.4 337.6L362.6 336.2L364.9 336.2Z"/><path d="M354.7 339.2L355.4 341.3L357.6 341.3L355.8 342.7L356.5 344.8L354.7 343.5L352.8 344.8L353.5 342.7L351.7 341.3L353.9 341.3Z"/><path d="M343.4 343L344.2 345.1L346.4 345.2L344.6 346.5L345.3 348.6L343.4 347.4L341.6 348.6L342.3 346.5L340.5 345.2L342.7 345.1Z"/><path d="M331.9 346.7L332.6 348.8L334.9 348.8L333.1 350.2L333.7 352.3L331.9 351L330.1 352.3L330.7 350.2L329 348.8L331.2 348.8Z"/><path d="M320 349.7L320.8 351.7L323 351.8L321.2 353.1L321.9 355.3L320 354L318.2 355.3L318.9 353.1L317.1 351.8L319.3 351.7Z"/><path d="M308.4 354.8L309.1 356.9L311.3 357L309.5 358.3L310.2 360.4L308.4 359.2L306.5 360.4L307.2 358.3L305.4 357L307.6 356.9Z"/><path d="M296.2 358.2L297 360.3L299.2 360.3L297.4 361.7L298.1 363.8L296.2 362.5L294.4 363.8L295.1 361.7L293.3 360.3L295.5 360.3Z"/><path d="M283.9 359.5L284.6 361.6L286.8 361.7L285 363L285.7 365.2L283.9 363.9L282 365.2L282.7 363L280.9 361.7L283.1 361.6Z"/><path d="M270.2 361.8L270.9 363.9L273.1 363.9L271.4 365.2L272 367.4L270.2 366.1L268.4 367.4L269 365.2L267.2 363.9L269.5 363.9Z"/><path d="M257.8 363.2L258.5 365.3L260.8 365.4L259 366.7L259.6 368.8L257.8 367.6L256 368.8L256.6 366.7L254.9 365.4L257.1 365.3Z"/><path d="M245.3 365.1L246 367.2L248.2 367.2L246.5 368.5L247.1 370.7L245.3 369.4L243.5 370.7L244.1 368.5L242.3 367.2L244.6 367.2Z"/><path d="M232.3 367.2L233 369.3L235.2 369.3L233.4 370.7L234.1 372.8L232.3 371.5L230.4 372.8L231.1 370.7L229.3 369.3L231.5 369.3Z"/><path d="M219.4 368.1L220.1 370.2L222.3 370.2L220.5 371.5L221.2 373.7L219.4 372.4L217.5 373.7L218.2 371.5L216.4 370.2L218.6 370.2Z"/><path d="M207 369.6L207.8 371.7L210 371.8L208.2 373.1L208.9 375.2L207 374L205.2 375.2L205.9 373.1L204.1 371.8L206.3 371.7Z"/><path d="M193.7 372.9L194.4 375L196.6 375L194.9 376.4L195.5 378.5L193.7 377.2L191.9 378.5L192.5 376.4L190.7 375L192.9 375Z"/><path d="M180.6 375.4L181.4 377.5L183.6 377.6L181.8 378.9L182.5 381L180.6 379.8L178.8 381L179.5 378.9L177.7 377.6L179.9 377.5Z"/><path d="M168.5 377.5L169.2 379.6L171.4 379.6L169.7 381L170.3 383.1L168.5 381.8L166.7 383.1L167.3 381L165.5 379.6L167.7 379.6Z"/><path d="M155.3 381.1L156 383.2L158.2 383.2L156.4 384.6L157.1 386.7L155.3 385.4L153.4 386.7L154.1 384.6L152.3 383.2L154.5 383.2Z"/><path d="M145.3 382.6L146 384.7L148.3 384.8L146.5 386.1L147.1 388.3L145.3 387L143.5 388.3L144.1 386.1L142.4 384.8L144.6 384.7Z"/></g>
<g fill="none" stroke="#000000" stroke-width="1.5" stroke-linejoin="round"><path d="M53.4 390.6L60.2 386.4L69.6 381.4L83.6 375.8L97.6 370.8L111.9 366.5L126.2 361.5L140.5 357.6L154.8 354.5L169.1 351.2L183.4 347.9L197.7 344.4L212 341L226.3 337.6L240.6 334.2L254.8 330.7L268.4 327.1L281.6 323.2L294.4 319.1L306.7 314.9L318.7 310.3L330.2 305.4L341.4 299.8L352.1 293.7L362.5 287L372.6 280.1L382.3 272.5L391.8 263.6L400.9 254.1L409.6 243.8L418.1 232L426.4 218.2L434.3 202.3L442 186.2L449.4 170.3L456.8 155L464.2 132.4L471.6 112.9L463.8 172.7L454.4 211.6L445 239.7L435.6 262.7L426.2 285.2L416.8 300.4L407.3 309.8L397.5 319L387.5 327.2L377.2 334.3L366.6 340.6L355.7 345.7L344.4 349.5L332.9 353.2L321 356.2L308.8 358.7L296.3 360.9L283.5 362.9L270.7 364.7L257.9 366.6L245.1 368.3L232.3 370L219.5 371.7L206.7 373.6L193.9 375.8L181.1 378.3L168.3 381.1L155.5 384.1L144.9 386.7"/></g><g fill="none" stroke="#000000" stroke-width="1.25" stroke-linejoin="round"><path d="M53.4 386.1L54.5 389.1L57.7 389.2L55.1 391.2L56 394.2L53.4 392.4L50.8 394.2L51.7 391.2L49.1 389.2L52.3 389.1Z"/><path d="M60.2 381.9L61.3 384.9L64.5 385L61.9 386.9L62.8 390L60.2 388.2L57.6 390L58.5 386.9L55.9 385L59.1 384.9Z"/><path d="M69.6 376.9L70.7 380L73.9 380L71.3 382L72.2 385.1L69.6 383.2L67 385.1L67.9 382L65.3 380L68.5 380Z"/><path d="M83.6 371.3L84.7 374.4L87.9 374.4L85.3 376.4L86.3 379.4L83.6 377.6L81 379.4L81.9 376.4L79.3 374.4L82.6 374.4Z"/><path d="M97.6 366.3L98.7 369.4L101.9 369.4L99.3 371.4L100.3 374.5L97.6 372.6L95 374.5L95.9 371.4L93.3 369.4L96.6 369.4Z"/><path d="M111.9 362L113 365L116.2 365.1L113.6 367.1L114.6 370.1L111.9 368.3L109.3 370.1L110.2 367.1L107.6 365.1L110.9 365Z"/><path d="M126.2 357L127.3 360L130.5 360.1L127.9 362L128.9 365.1L126.2 363.3L123.6 365.1L124.5 362L121.9 360.1L125.2 360Z"/><path d="M140.5 353.1L141.6 356.2L144.8 356.2L142.2 358.2L143.2 361.3L140.5 359.4L137.9 361.3L138.8 358.2L136.2 356.2L139.5 356.2Z"/><path d="M154.8 350L155.9 353L159.1 353.1L156.5 355L157.5 358.1L154.8 356.3L152.2 358.1L153.1 355L150.5 353.1L153.8 353Z"/><path d="M169.1 346.7L170.2 349.8L173.4 349.8L170.8 351.8L171.8 354.9L169.1 353L166.5 354.9L167.4 351.8L164.8 349.8L168.1 349.8Z"/><path d="M183.4 343.4L184.5 346.4L187.7 346.5L185.1 348.4L186.1 351.5L183.4 349.7L180.8 351.5L181.7 348.4L179.1 346.5L182.4 346.4Z"/><path d="M197.7 339.9L198.8 343L202 343.1L199.4 345L200.4 348.1L197.7 346.2L195.1 348.1L196 345L193.4 343.1L196.7 343Z"/><path d="M212 336.5L213.1 339.6L216.3 339.6L213.7 341.6L214.7 344.7L212 342.8L209.4 344.7L210.3 341.6L207.7 339.6L211 339.6Z"/><path d="M226.3 333.1L227.4 336.1L230.6 336.2L228 338.1L229 341.2L226.3 339.4L223.7 341.2L224.6 338.1L222 336.2L225.3 336.1Z"/><path d="M240.6 329.7L241.7 332.7L244.9 332.8L242.3 334.7L243.3 337.8L240.6 336L238 337.8L238.9 334.7L236.3 332.8L239.6 332.7Z"/><path d="M254.8 326.2L255.8 329.3L259 329.3L256.5 331.3L257.4 334.4L254.8 332.5L252.1 334.4L253 331.3L250.5 329.3L253.7 329.3Z"/><path d="M268.4 322.6L269.5 325.6L272.7 325.7L270.1 327.6L271.1 330.7L268.4 328.9L265.8 330.7L266.7 327.6L264.1 325.7L267.4 325.6Z"/><path d="M281.6 318.7L282.7 321.7L285.9 321.8L283.3 323.7L284.3 326.8L281.6 325L279 326.8L279.9 323.7L277.3 321.8L280.6 321.7Z"/><path d="M294.4 314.6L295.5 317.7L298.7 317.7L296.1 319.7L297 322.8L294.4 320.9L291.8 322.8L292.7 319.7L290.1 317.7L293.3 317.7Z"/><path d="M306.7 310.4L307.8 313.4L311 313.5L308.5 315.4L309.4 318.5L306.7 316.7L304.1 318.5L305 315.4L302.5 313.5L305.7 313.4Z"/><path d="M318.7 305.8L319.7 308.9L323 308.9L320.4 310.9L321.3 314L318.7 312.1L316 314L317 310.9L314.4 308.9L317.6 308.9Z"/><path d="M330.2 300.9L331.3 303.9L334.5 304L331.9 305.9L332.8 309L330.2 307.2L327.6 309L328.5 305.9L325.9 304L329.1 303.9Z"/><path d="M341.4 295.3L342.4 298.4L345.6 298.4L343.1 300.4L344 303.5L341.4 301.6L338.7 303.5L339.6 300.4L337.1 298.4L340.3 298.4Z"/><path d="M352.1 289.2L353.2 292.2L356.4 292.3L353.8 294.2L354.8 297.3L352.1 295.5L349.5 297.3L350.4 294.2L347.8 292.3L351.1 292.2Z"/><path d="M362.5 282.5L363.6 285.6L366.8 285.6L364.3 287.6L365.2 290.7L362.5 288.8L359.9 290.7L360.8 287.6L358.3 285.6L361.5 285.6Z"/><path d="M372.6 275.6L373.7 278.6L376.9 278.7L374.3 280.6L375.3 283.7L372.6 281.9L370 283.7L370.9 280.6L368.3 278.7L371.6 278.6Z"/><path d="M382.3 268L383.4 271.1L386.6 271.1L384.1 273.1L385 276.2L382.3 274.3L379.7 276.2L380.6 273.1L378.1 271.1L381.3 271.1Z"/><path d="M391.8 259.1L392.8 262.2L396 262.2L393.5 264.2L394.4 267.3L391.8 265.4L389.1 267.3L390 264.2L387.5 262.2L390.7 262.2Z"/><path d="M400.9 249.6L401.9 252.7L405.1 252.7L402.6 254.7L403.5 257.8L400.9 255.9L398.2 257.8L399.1 254.7L396.6 252.7L399.8 252.7Z"/><path d="M409.6 239.3L410.7 242.4L413.9 242.4L411.4 244.4L412.3 247.5L409.6 245.6L407 247.5L407.9 244.4L405.4 242.4L408.6 242.4Z"/><path d="M418.1 227.5L419.2 230.5L422.4 230.6L419.9 232.5L420.8 235.6L418.1 233.8L415.5 235.6L416.4 232.5L413.9 230.6L417.1 230.5Z"/><path d="M426.4 213.7L427.4 216.8L430.6 216.8L428.1 218.8L429 221.9L426.4 220L423.7 221.9L424.6 218.8L422.1 216.8L425.3 216.8Z"/><path d="M434.3 197.8L435.4 200.8L438.6 200.9L436 202.8L436.9 205.9L434.3 204.1L431.7 205.9L432.6 202.8L430 200.9L433.2 200.8Z"/><path d="M442 181.7L443 184.7L446.3 184.8L443.7 186.7L444.6 189.8L442 188L439.3 189.8L440.3 186.7L437.7 184.8L440.9 184.7Z"/><path d="M449.4 165.8L450.5 168.9L453.7 168.9L451.1 170.9L452 174L449.4 172.1L446.8 174L447.7 170.9L445.1 168.9L448.3 168.9Z"/><path d="M456.8 150.5L457.9 153.6L461.1 153.6L458.5 155.6L459.4 158.7L456.8 156.8L454.2 158.7L455.1 155.6L452.5 153.6L455.7 153.6Z"/><path d="M464.2 127.9L465.3 131L468.5 131L465.9 133L466.8 136.1L464.2 134.2L461.6 136.1L462.5 133L459.9 131L463.1 131Z"/><path d="M471.6 108.4L472.7 111.4L475.9 111.5L473.3 113.5L474.2 116.5L471.6 114.7L469 116.5L469.9 113.5L467.3 111.5L470.5 111.4Z"/><path d="M463.8 168.2L464.9 171.3L468.1 171.3L465.5 173.3L466.4 176.4L463.8 174.5L461.2 176.4L462.1 173.3L459.5 171.3L462.7 171.3Z"/><path d="M454.4 207.1L455.5 210.2L458.7 210.3L456.1 212.2L457 215.3L454.4 213.4L451.8 215.3L452.7 212.2L450.1 210.3L453.3 210.2Z"/><path d="M445 235.2L446.1 238.2L449.3 238.3L446.7 240.2L447.6 243.3L445 241.5L442.4 243.3L443.3 240.2L440.7 238.3L443.9 238.2Z"/><path d="M435.6 258.2L436.7 261.2L439.9 261.3L437.3 263.2L438.2 266.3L435.6 264.5L433 266.3L433.9 263.2L431.3 261.3L434.5 261.2Z"/><path d="M426.2 280.7L427.3 283.7L430.5 283.8L427.9 285.7L428.8 288.8L426.2 287L423.6 288.8L424.5 285.7L421.9 283.8L425.1 283.7Z"/><path d="M416.8 295.9L417.9 298.9L421.1 299L418.5 300.9L419.4 304L416.8 302.2L414.2 304L415.1 300.9L412.5 299L415.7 298.9Z"/><path d="M407.3 305.3L408.4 308.4L411.6 308.4L409 310.4L410 313.5L407.3 311.6L404.7 313.5L405.6 310.4L403 308.4L406.3 308.4Z"/><path d="M397.5 314.5L398.6 317.6L401.8 317.6L399.3 319.6L400.2 322.7L397.5 320.8L394.9 322.7L395.8 319.6L393.3 317.6L396.5 317.6Z"/><path d="M387.5 322.7L388.6 325.7L391.8 325.8L389.2 327.7L390.2 330.8L387.5 329L384.9 330.8L385.8 327.7L383.2 325.8L386.5 325.7Z"/><path d="M377.2 329.8L378.3 332.8L381.5 332.9L378.9 334.9L379.8 337.9L377.2 336.1L374.5 337.9L375.5 334.9L372.9 332.9L376.1 332.8Z"/><path d="M366.6 336.1L367.6 339.1L370.9 339.2L368.3 341.1L369.2 344.2L366.6 342.4L363.9 344.2L364.9 341.1L362.3 339.2L365.5 339.1Z"/><path d="M355.7 341.2L356.7 344.2L359.9 344.3L357.4 346.2L358.3 349.3L355.7 347.5L353 349.3L354 346.2L351.4 344.3L354.6 344.2Z"/><path d="M344.4 345L345.5 348.1L348.7 348.1L346.2 350.1L347.1 353.2L344.4 351.3L341.8 353.2L342.7 350.1L340.2 348.1L343.4 348.1Z"/><path d="M332.9 348.7L334 351.8L337.2 351.8L334.6 353.8L335.5 356.8L332.9 355L330.3 356.8L331.2 353.8L328.6 351.8L331.8 351.8Z"/><path d="M321 351.7L322.1 354.7L325.3 354.8L322.7 356.7L323.7 359.8L321 358L318.4 359.8L319.3 356.7L316.8 354.8L320 354.7Z"/><path d="M308.8 354.2L309.9 357.2L313.1 357.3L310.5 359.2L311.5 362.3L308.8 360.5L306.2 362.3L307.1 359.2L304.6 357.3L307.8 357.2Z"/><path d="M296.3 356.4L297.3 359.5L300.6 359.5L298 361.5L298.9 364.6L296.3 362.7L293.6 364.6L294.6 361.5L292 359.5L295.2 359.5Z"/><path d="M283.5 358.4L284.5 361.5L287.8 361.5L285.2 363.5L286.1 366.6L283.5 364.7L280.8 366.6L281.8 363.5L279.2 361.5L282.4 361.5Z"/><path d="M270.7 360.2L271.7 363.3L275 363.3L272.4 365.3L273.3 368.4L270.7 366.5L268 368.4L269 365.3L266.4 363.3L269.6 363.3Z"/><path d="M257.9 362.1L258.9 365.1L262.2 365.2L259.6 367.1L260.5 370.2L257.9 368.4L255.2 370.2L256.2 367.1L253.6 365.2L256.8 365.1Z"/><path d="M245.1 363.8L246.1 366.8L249.4 366.9L246.8 368.8L247.7 371.9L245.1 370.1L242.4 371.9L243.4 368.8L240.8 366.9L244 366.8Z"/><path d="M232.3 365.5L233.3 368.5L236.6 368.6L234 370.5L234.9 373.6L232.3 371.8L229.6 373.6L230.6 370.5L228 368.6L231.2 368.5Z"/><path d="M219.5 367.2L220.5 370.2L223.8 370.3L221.2 372.2L222.1 375.3L219.5 373.5L216.8 375.3L217.8 372.2L215.2 370.3L218.4 370.2Z"/><path d="M206.7 369.1L207.7 372.1L211 372.2L208.4 374.2L209.3 377.2L206.7 375.4L204 377.2L205 374.2L202.4 372.2L205.6 372.1Z"/><path d="M193.9 371.3L194.9 374.3L198.2 374.4L195.6 376.3L196.5 379.4L193.9 377.6L191.2 379.4L192.2 376.3L189.6 374.4L192.8 374.3Z"/><path d="M181.1 373.8L182.1 376.8L185.4 376.9L182.8 378.8L183.7 381.9L181.1 380.1L178.4 381.9L179.4 378.8L176.8 376.9L180 376.8Z"/><path d="M168.3 376.6L169.3 379.6L172.6 379.7L170 381.6L170.9 384.7L168.3 382.9L165.6 384.7L166.6 381.6L164 379.7L167.2 379.6Z"/><path d="M155.5 379.6L156.5 382.6L159.8 382.7L157.2 384.6L158.1 387.7L155.5 385.9L152.8 387.7L153.8 384.6L151.2 382.7L154.4 382.6Z"/><path d="M144.9 382.2L146 385.2L149.2 385.3L146.6 387.3L147.5 390.3L144.9 388.5L142.3 390.3L143.2 387.3L140.6 385.3L143.8 385.2Z"/></g>
<rect x="54.5" y="10.5" width="480" height="379" fill="none" stroke="#3a3a3a" stroke-width="1"/><path d="M54.5 389.5v-4.6M214.5 389.5v-4.6M374.5 389.5v-4.6M534.5 389.5v-4.6M54.5 352.5h4.6M54.5 314.5h4.6M54.5 276.5h4.6M54.5 238.5h4.6M54.5 200.5h4.6M54.5 162.5h4.6M54.5 124.5h4.6M54.5 86.5h4.6M54.5 48.5h4.6" stroke="#3a3a3a" stroke-width="1" fill="none"/>
<g font-size="15" fill="#333" text-anchor="middle"><text x="54.5" y="412">1</text><text x="214.5" y="412">1.5</text><text x="374.5" y="412">2</text><text x="534.5" y="412">2.5</text></g><g font-size="15" fill="#333" text-anchor="end"><text x="47.3" y="395.9">0</text><text x="47.3" y="357.9">0.5</text><text x="47.3" y="319.9">1</text><text x="47.3" y="281.8">1.5</text><text x="47.3" y="243.8">2</text><text x="47.3" y="205.8">2.5</text><text x="47.3" y="167.8">3</text><text x="47.3" y="129.7">3.5</text><text x="47.3" y="91.7">4</text><text x="47.3" y="53.7">4.5</text><text x="47.3" y="15.7">5</text></g><text x="294.5" y="434.1" font-size="16" fill="#333" text-anchor="middle">Stretch Ratio (1)</text><text transform="translate(18.1 200.9) rotate(-90)" font-size="15.6" letter-spacing="0.2" fill="#333" text-anchor="middle">Norminal Stress (MPa)</text>
<g font-size="13.3" fill="#222"><text x="102.2" y="31.9">Experimental data of 2nd Cycle</text><text x="102.2" y="50.2">Curve fitting of 2nd cycle</text><text x="102.2" y="68.5">Experimental data of 3rd Cycle</text><text x="102.2" y="86.8">Curve fitting of 3rd cycle</text><text x="102.2" y="105.1">Experimental data of 4th Cycle</text><text x="102.2" y="123.3">Curve fitting of 4th cycle</text><text x="102.2" y="141.7">Experimental data of 5th Cycle</text><text x="102.2" y="159.9">Curve fitting of 5th cycle</text></g><g fill="none" stroke="#0000ff" stroke-width="1.3" stroke-linejoin="round"><circle cx="81.6" cy="27.1" r="2.7"/></g><path d="M65.5 45.4H98.2" stroke="#0000ff" stroke-width="1.8"/><g fill="none" stroke="#0000ff" stroke-width="1.7" stroke-linejoin="round"><circle cx="81.6" cy="45.4" r="4.1"/></g><g fill="none" stroke="#00ff00" stroke-width="1.3" stroke-linejoin="round"><path d="M78 63.7h7.2M81.6 60.1v7.2"/></g><path d="M65.5 82H98.2" stroke="#00ff00" stroke-width="1.7"/><g fill="none" stroke="#00ff00" stroke-width="1.15" stroke-linejoin="round"><path d="M76.3 82h10.6M81.6 76.7v10.6M77.9 78.3l7.5 7.5M77.9 85.7l7.5 -7.5"/></g><g fill="none" stroke="#ff00ff" stroke-width="1.3" stroke-linejoin="round"><path d="M81.6 96.4L84.4 100.3L81.6 104.2L78.8 100.3Z"/></g><path d="M65.5 118.6H98.2" stroke="#ff00ff" stroke-width="1.7"/><g fill="none" stroke="#ff00ff" stroke-width="1.5" stroke-linejoin="round"><path d="M81.6 112.6L85.9 118.6L81.6 124.6L77.3 118.6Z"/></g><g fill="none" stroke="#000000" stroke-width="1.0" stroke-linejoin="round"><path d="M81.6 133.8L82.3 135.9L84.5 135.9L82.8 137.3L83.4 139.4L81.6 138.1L79.8 139.4L80.4 137.3L78.7 135.9L80.9 135.9Z"/></g><path d="M65.5 155.2H98.2" stroke="#000000" stroke-width="1.5"/><g fill="none" stroke="#000000" stroke-width="1.25" stroke-linejoin="round"><path d="M81.6 150.7L82.7 153.7L85.9 153.8L83.3 155.8L84.2 158.8L81.6 157L79 158.8L79.9 155.8L77.3 153.8L80.5 153.7Z"/></g>
</svg>
</body></html>
